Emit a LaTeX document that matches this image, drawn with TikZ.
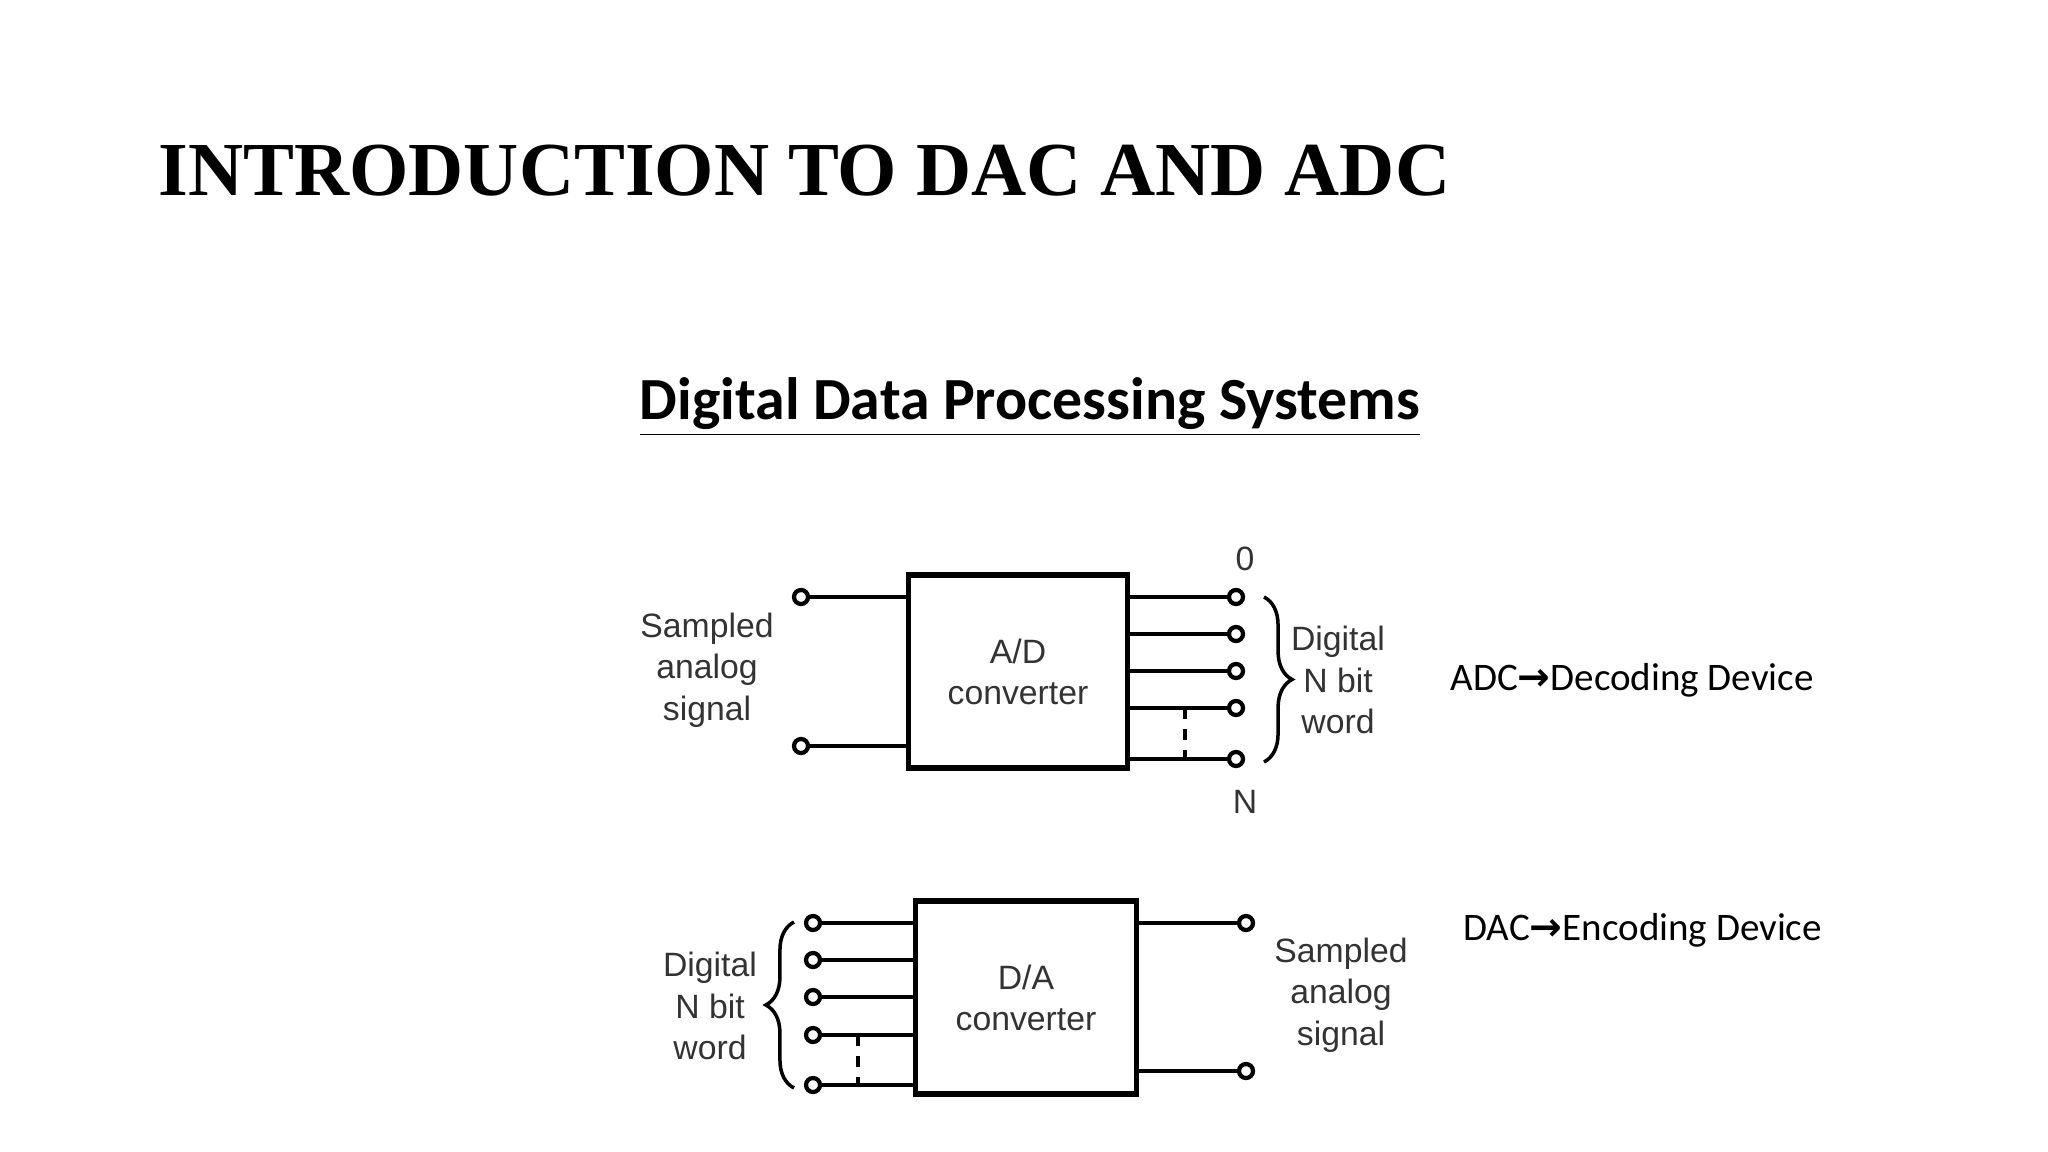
\documentclass[tikz,border=0pt]{standalone}
\usepackage{fontspec}
\setmainfont{Liberation Serif}
\newfontfamily\calfnt{Carlito}
\newfontfamily\helfnt{Liberation Sans}
\newfontfamily\djfnt{DejaVu Sans}
\usetikzlibrary{decorations.pathreplacing}
\begin{document}
\begin{tikzpicture}[x=0.01cm,y=-0.01cm,
  wire/.style={line width=1.1pt},
  term/.style={circle,draw,line width=1.2pt,fill=white,minimum size=0.14cm,inner sep=0},
  lab/.style={font=\helfnt\fontsize{9.6}{11.8}\selectfont,text=black!80,align=center},
  note/.style={font=\calfnt\fontsize{11.1}{12}\selectfont,anchor=west}]
\useasboundingbox (0,0) rectangle (2048,1152);
\node[font=\bfseries\fontsize{21.7}{24}\selectfont,anchor=west,inner sep=0] (title) at (158,171) {INTRODUCTION TO DAC AND ADC};
\node[font=\calfnt\bfseries\fontsize{17}{19}\selectfont] (sub) at (1030,407) {\underline{Digital Data Processing Systems}};
% ADC
\node[draw,line width=1.5pt,minimum width=2.19cm,minimum height=1.93cm,inner sep=0] (adc) at (1018,671.5) {};
\node[lab] (adct) at (1018,672) {A/D\\converter};
\node[term] (ai1) at (801,597) {};
\node[term] (ai2) at (801,746) {};
\draw[wire] (ai1) -- (adc.west |- ai1);
\draw[wire] (ai2) -- (adc.west |- ai2);
\foreach \i/\y in {1/597,2/634,3/671,4/708,5/759}{
  \node[term] (ao\i) at (1236,\y) {};
  \draw[wire] (adc.east |- ao\i) -- (ao\i);
}
\coordinate (ad1) at (1185,708); \coordinate (ad2) at (1185,759);
\draw[line width=1pt,dashed] (ad1) -- (ad2);
\node[lab] (zero) at (1245,559) {0};
\node[lab] (nn) at (1245,802) {N};
\coordinate (ab1) at (1264,597); \coordinate (ab2) at (1264,762);
\draw[line width=1pt,decorate,decoration={brace,amplitude=8pt}] (ab1) -- (ab2);
\node[lab] (adw) at (1338,680) {Digital\\N bit\\word};
\node[lab] (ads) at (707,670) {Sampled\\analog\\signal};
\node[note] (adcn) at (1438,680) {ADC{\djfnt\bfseries →}Decoding Device};
% DAC
\node[draw,line width=1.5pt,minimum width=2.21cm,minimum height=1.93cm,inner sep=0] (dac) at (1026,997.5) {};
\node[lab] (dact) at (1026,998) {D/A\\converter};
\foreach \i/\y in {1/923,2/960,3/997,4/1035,5/1085}{
  \node[term] (di\i) at (813,\y) {};
  \draw[wire] (di\i) -- (dac.west |- di\i);
}
\coordinate (dd1) at (858,1035); \coordinate (dd2) at (858,1085);
\draw[line width=1pt,dashed] (dd1) -- (dd2);
\coordinate (db1) at (794,1088); \coordinate (db2) at (794,922);
\draw[line width=1pt,decorate,decoration={brace,amplitude=8pt}] (db1) -- (db2);
\node[lab] (daw) at (710,1006) {Digital\\N bit\\word};
\node[term] (do1) at (1246,923) {};
\node[term] (do2) at (1246,1071) {};
\draw[wire] (dac.east |- do1) -- (do1);
\draw[wire] (dac.east |- do2) -- (do2);
\node[lab] (das) at (1341,995) {Sampled\\analog\\signal};
\node[note] (dacn) at (1451,930) {DAC{\djfnt\bfseries →}Encoding Device};
\end{tikzpicture}
\end{document}
